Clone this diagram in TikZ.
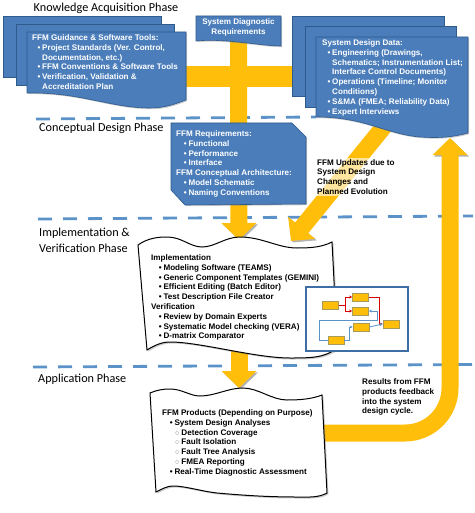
\documentclass[tikz,border=0pt]{standalone}
\usepackage{fontspec}
\setmainfont{Liberation Sans}
\newfontfamily\phasefont{Carlito}
\usetikzlibrary{arrows.meta,backgrounds,shadows}
\definecolor{docblue}{HTML}{4A7DBA}
\definecolor{docedge}{HTML}{2F5A8C}
\definecolor{dashblue}{HTML}{5B93C9}
\definecolor{flowgold}{HTML}{FFBE0A}
\definecolor{boxtan}{HTML}{A89A5A}
\definecolor{insetblue}{HTML}{3D6EA5}
\newcommand{\ib}{\hspace*{5.4pt}\textbullet\hspace{1.8pt}}
\newcommand{\ibb}{\hspace*{7.7pt}\textbullet\hspace{1.8pt}}
\newcommand{\ic}{\hspace*{10pt}}
\newcommand{\io}{\hspace*{13pt}{\color{gray}$\circ$}\hspace{2pt}}
\tikzset{
  sheet/.style={fill=docblue, draw=docedge, line width=.6pt, drop shadow={shadow xshift=1.2pt, shadow yshift=-1.2pt, opacity=.4}},
  paper/.style={fill=white, draw=black, line width=1pt, drop shadow={shadow xshift=1.5pt, shadow yshift=-1.5pt, opacity=.4}},
  bluetext/.style={anchor=north west, inner sep=0pt, align=left, text=white, font=\fontsize{8.1}{9.8}\selectfont\bfseries},
  blacktext/.style={anchor=north west, inner sep=0pt, align=left, text=black, font=\fontsize{8.1}{9.8}\selectfont\bfseries},
  phase/.style={anchor=west, inner sep=0pt, align=left, font=\fontsize{12.2}{16}\phasefont},
  phaseline/.style={draw=dashblue, line width=2.8pt, dash pattern=on 14pt off 11pt},
  flowbar/.style={draw=flowgold, line width=17pt, preaction={draw=black!30, transform canvas={shift={(1.5pt,-1.5pt)}}}},
  flow/.style={flowbar, -{Triangle[width=34pt,length=17pt]}},
  minibox/.style={fill=flowgold, draw=boxtan, line width=.7pt, minimum width=16pt, minimum height=8pt, inner sep=0pt},
  redlink/.style={draw=red!85!black, line width=.8pt, -{Stealth[length=3pt,width=3pt]}},
  bluelink/.style={draw=dashblue, line width=.8pt, -{Stealth[length=3pt,width=3pt]}},
}
\begin{document}
\begin{tikzpicture}[x=1pt,y=-1pt]
\useasboundingbox (0,0) rectangle (474,513);

% left stack
\foreach \x/\y in {3/16,16/24} \draw[sheet] (\x,\y) rectangle ++(158,61);
\draw[sheet] (27,32) -- (186,32) -- (186,100) .. controls (175,104) and (165,108) .. (150,108) .. controls (110,108) and (80,92) .. (27,93) -- cycle;
\node[bluetext] (guidance) at (32,34.5) {FFM Guidance \& Software Tools:\\
\ib Project Standards (Ver. Control,\\
\ic Documentation, etc.)\\
\ib FFM Conventions \& Software Tools\\
\ib Verification, Validation \&\\
\ic Accreditation Plan};

% requirements tab
\draw[sheet] (196,16) -- (281,16) -- (281,46) .. controls (260,46) and (225,38) .. (196,41) -- cycle;
\node[bluetext, anchor=north, align=center] (sysreq) at (238.5,18.5) {System Diagnostic\\Requirements};

% right stack
\draw[sheet] (292,16) rectangle (444,96);
\draw[sheet] (305,26) rectangle (456,107);
\draw[sheet] (316,37) -- (468,37) -- (468,133) .. controls (450,138) and (435,138) .. (420,137) .. controls (385,134) and (365,117) .. (316,117) -- cycle;
\node[bluetext] (sysdata) at (322,39.5) {System Design Data:\\
\ib Engineering (Drawings,\\
\ic Schematics; Instrumentation List;\\
\ic Interface Control Documents)\\
\ib Operations (Timeline; Monitor\\
\ic Conditions)\\
\ib S\&MA (FMEA; Reliability Data)\\
\ib Expert Interviews};

% conceptual box
\draw[sheet] (171,123) -- (292,123) -- (306,137) -- (306,204) -- (185,205) -- (171,190) -- cycle;
\node[bluetext] (ffmreq) at (176,130.5) {FFM Requirements:\\
\ibb Functional\\
\ibb Performance\\
\ibb Interface\\
FFM Conceptual Architecture:\\
\ibb Model Schematic\\
\ibb Naming Conventions};

% implementation paper
\draw[paper] (138,245) .. controls (148,238) and (158,237) .. (167,237) .. controls (182,237) and (190,247) .. (202,247) .. controls (215,247) and (225,237) .. (240,237) .. controls (262,237) and (278,248) .. (297,248) .. controls (312,248) and (322,247) .. (332,242)
  .. controls (334,280) and (336,320) .. (337,348) .. controls (325,358) and (310,358) .. (290,358) .. controls (255,358) and (200,342) .. (170,342) .. controls (162,342) and (155,345) .. (147,350) -- cycle;
\node[blacktext] (implementation) at (151,254.5) {Implementation\\
\ibb Modeling Software (TEAMS)\\
\ibb Generic Component Templates (GEMINI)\\
\ibb Efficient Editing (Batch Editor)\\
\ibb Test Description File Creator\\
Verification\\
\ibb Review by Domain Experts\\
\ibb Systematic Model checking (VERA)\\
\ibb D-matrix Comparator};

% small schematic
\draw[draw=insetblue, fill=white, line width=1.4pt, drop shadow={shadow xshift=1pt, shadow yshift=-1pt, opacity=.3}] (306,287) rectangle (408,351);
\node[minibox] (srcbox) at (330.5,305) {};
\node[minibox] (upbox) at (360.5,297) {};
\node[minibox] (midbox) at (360.5,311) {};
\node[minibox] (lowbox) at (361,327) {};
\node[minibox] (sinkbox) at (391,324) {};
\node[minibox] (footbox) at (336,340.5) {};
\coordinate (backbend) at (377.3,320.7);
\draw[redlink] (srcbox.east) -- ++(7,0) |- (upbox.west);
\draw[redlink] (srcbox.east) -- ++(7,0) |- (midbox.west);
\draw[redlink] (upbox.east) -- ++(10.5,0) |- (sinkbox.west);
\draw[bluelink] (lowbox.east) -- (sinkbox.west);
\draw[bluelink] (footbox.east) -- ++(5,0) |- (lowbox.west);
\draw[bluelink] (footbox.west) -- ++(-8.7,0) |- (backbend) |- (midbox.east);

% products paper
\draw[paper] (150,393) .. controls (157,390) and (163,389) .. (170,389) .. controls (182,389) and (190,396) .. (200,396) .. controls (215,396) and (228,388) .. (243,388) .. controls (258,388) and (272,400) .. (287,400) .. controls (300,400) and (312,399) .. (322,395)
  -- (327,493) .. controls (318,498) and (308,497) .. (297,497) .. controls (265,497) and (240,495) .. (217,493) .. controls (200,491) and (185,486) .. (173,486) .. controls (167,486) and (162,489) .. (156,492) -- cycle;
\node[blacktext] (products) at (162,409.5) {FFM Products (Depending on Purpose)\\
\ibb System Design Analyses\\
\io Detection Coverage\\
\io Fault Isolation\\
\io Fault Tree Analysis\\
\io FMEA Reporting\\
\ibb Real-Time Diagnostic Assessment};

% titles
\node[phase, anchor=center] (knowledge) at (106,8) {Knowledge Acquisition Phase};
\node[phase] (conceptual) at (39,128) {Conceptual Design Phase};
\node[phase] (verification) at (39,240.5) {Implementation \&\\Verification Phase};
\node[phase] (application) at (38,379) {Application Phase};

% side notes
\node[blacktext, fill=white, fill opacity=.6, text opacity=1, inner sep=1pt] (updates) at (316,158) {FFM Updates due to\\System Design\\Changes and\\Planned Evolution};
\node[blacktext] (results) at (362,378.5) {Results from FFM\\products feedback\\into the system\\design cycle.};

\coordinate (sysjoin) at (238.5,77);
\coordinate (impltip) at (239,240);
\coordinate (updtip) at (291,241);
\coordinate (prodtip) at (239,388);
\coordinate (returnout) at (320,433);
\coordinate (returntip) at (450,138);

\begin{scope}[on background layer]
\draw[phaseline] (36,119) -- (316,117);
\draw[phaseline] (38,219) -- (473,216);
\draw[phaseline] (33,367) -- (473,364.5);
\draw[flow] (sysreq) -- (impltip);
\draw[flowbar, line width=21pt] (guidance.east |- sysjoin) -- (sysdata.west |- sysjoin);
\draw[flow] (sysdata.south) -- (updtip);
\draw[flow] (implementation.south -| prodtip) -- (prodtip);
\draw[flow, rounded corners=45pt] (returnout) -- (returnout -| returntip) -- (returntip);
\end{scope}
\end{tikzpicture}
\end{document}
